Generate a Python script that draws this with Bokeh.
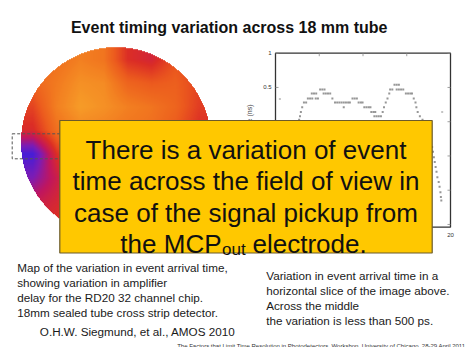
import numpy as np
from bokeh.plotting import figure
from bokeh.models import Range1d, LinearColorMapper
from bokeh.core.properties import value
from bokeh.embed import file_html
from bokeh.resources import INLINE

# ---------------- texts ----------------
title_text = "Event timing variation across 18 mm tube"
box_lines = ["There is a variation of event",
             "time across the field of view in",
             "case of the signal pickup from"]
box_last = ["the MCP", "out", "electrode."]
left_caption = ["Map of the variation in event arrival  time,",
                "showing variation in amplifier",
                "delay for the RD20 32 channel chip.",
                "18mm sealed tube cross strip detector."]
citation = "O.H.W. Siegmund, et al., AMOS 2010"
right_caption = ["Variation in event arrival time in a",
                 "horizontal slice of the image above.",
                 "Across the middle",
                 "the variation is less than 500 ps."]
footer = ("The Factors that Limit Time Resolution in Photodetectors, Workshop, "
          "University of Chicago, 28-29 April 2011")

# ---------------- slice-profile chart data ----------------
x_limits = [0, 20]
y_limits = [-1.54, 1.0]
x_ticks = [0, 5, 10, 15, 20]
x_tick_labels = ["0", "5", "10", "15", "20"]
y_ticks = [-1.5, -1.0, -0.5, 0.0, 0.5, 1.0]
y_tick_labels = ["-1.5", "-1", "-0.5", "0", "0.5", "1"]
y_axis_label = "Time (ns)"

prof_x = [1.0, 1.25, 1.5, 1.75, 2.0, 2.25, 2.4, 2.55,
          2.7, 2.8, 2.9, 3.05, 3.25, 3.5,
          3.7, 3.95, 4.2, 4.6, 4.85,
          4.15, 4.4, 4.65, 5.5, 5.75, 6.0, 6.25,
          5.1, 5.35, 5.6, 6.5,
          6.8, 7.05, 7.3, 7.55, 7.8, 8.05, 8.3, 8.5, 7.8,
          8.8, 9.05, 9.3, 9.5, 9.75, 9.95,
          10.15, 10.4, 10.65, 10.85, 10.95, 11.2, 11.4,
          11.3, 11.55, 11.8, 12.05,
          12.25, 12.4, 12.6, 12.8, 13.0,
          13.1, 13.35, 13.85, 14.1, 14.35, 14.6,
          13.6, 13.85, 14.1,
          14.9, 15.15, 15.4, 15.6,
          15.8, 16.0, 16.1, 16.25, 16.5, 16.8,
          17.05, 17.3, 17.55, 17.75,
          17.9, 18.0, 18.1, 18.2, 18.3, 18.4, 18.5, 18.65, 18.75, 18.85, 18.9, 18.95]
prof_y = [-1.2, -1.05, -0.9, -0.75, -0.6, -0.45, -0.3, -0.15,
          0.03, 0.08, 0.14, 0.21, 0.28, 0.28,
          0.34, 0.34, 0.34, 0.34, 0.34,
          0.41, 0.41, 0.41, 0.41, 0.41, 0.41, 0.41,
          0.47, 0.47, 0.47, 0.34,
          0.28, 0.28, 0.28, 0.28, 0.28, 0.28, 0.28, 0.28, 0.21,
          0.34, 0.34, 0.34, 0.28, 0.28, 0.28,
          0.21, 0.21, 0.21, 0.21, 0.14, 0.14, 0.14,
          0.08, 0.08, 0.08, 0.08,
          0.14, 0.21, 0.28, 0.34, 0.41,
          0.47, 0.47, 0.47, 0.47, 0.47, 0.47,
          0.54, 0.54, 0.54,
          0.41, 0.41, 0.41, 0.41,
          0.34, 0.28, 0.21, 0.14, 0.08, 0.03,
          -0.08, -0.17, -0.26, -0.32,
          -0.37, -0.44, -0.52, -0.59, -0.66, -0.73, -0.81, -0.88, -0.95, -1.03, -1.1, -1.15]
stray_x = [0.5, 19.05]
stray_y = [0.33, 0.14]

# ---------------- timing map (coarse values, 0=early/blue .. 1=late/yellow) ----------------
map_grid = [
    [0.68, 0.70, 0.76, 0.72, 0.50, 0.45, 0.60, 0.56],
    [0.66, 0.74, 0.82, 0.80, 0.66, 0.62, 0.64, 0.56],
    [0.56, 0.76, 0.86, 0.82, 0.76, 0.72, 0.66, 0.54],
    [0.48, 0.70, 0.78, 0.76, 0.72, 0.70, 0.62, 0.50],
    [0.04, 0.50, 0.70, 0.72, 0.70, 0.68, 0.62, 0.50],
    [0.20, 0.40, 0.62, 0.68, 0.68, 0.66, 0.62, 0.52],
    [0.38, 0.46, 0.60, 0.66, 0.66, 0.64, 0.60, 0.54],
    [0.48, 0.52, 0.58, 0.62, 0.64, 0.62, 0.58, 0.56],
]
map_anchor_vals = [0.0, 0.2, 0.35, 0.5, 0.62, 0.74, 0.86, 1.0]
map_anchor_cols = ["#3a1ee0", "#7e1cb4", "#c01660", "#dc2e26", "#ec5a1e", "#f27a20", "#f79c28", "#f9c43a"]

# ---------------- layout (reference pixel coordinates) ----------------
W, H = 466, 347
OFF = 0
WIN_H = 355
def V(ry):
    return WIN_H - ry

p = figure(width=W, height=H, x_range=Range1d(OFF, OFF + W), y_range=Range1d(WIN_H - OFF - H, WIN_H - OFF),
           x_axis_type=None, y_axis_type=None, output_backend="svg", toolbar_location=None,
           min_border=0, background_fill_color="white", border_fill_color="white")
p.grid.visible = False
p.outline_line_color = None

FONT = value("Liberation Sans")

# --- colour map build ---
def hex2rgb(h):
    return np.array([int(h[i:i + 2], 16) for i in (1, 3, 5)], dtype=float)
lv = np.linspace(0, 1, 256)
rgb = np.array([hex2rgb(c) for c in map_anchor_cols])
pal = []
for t in lv:
    r = np.interp(t, map_anchor_vals, rgb[:, 0])
    g = np.interp(t, map_anchor_vals, rgb[:, 1])
    b = np.interp(t, map_anchor_vals, rgb[:, 2])
    pal.append("#%02x%02x%02x" % (int(r), int(g), int(b)))
mapper = LinearColorMapper(palette=pal, low=0, high=1, nan_color=(0, 0, 0, 0))

# --- disc image ---
disc_cx, disc_cy, disc_r = 115.5, 141.7, 95.0
N = int(2 * disc_r)
grid = np.array(map_grid)
g_n = grid.shape[0]
pos = (np.arange(N) + 0.5) / N * g_n - 0.5
rows_up = np.array([np.interp(pos, np.arange(g_n), grid[i]) for i in range(g_n)])
img = np.array([np.interp(pos, np.arange(g_n), rows_up[:, j]) for j in range(N)]).T
yy, xx = np.mgrid[0:N, 0:N] + 0.5
inside = (xx - disc_r) ** 2 + (yy - disc_r) ** 2 <= disc_r ** 2
img = np.where(inside, img, np.nan)
img = img[::-1]  # row 0 at bottom
p.image(image=[img], x=disc_cx - disc_r, y=V(disc_cy + disc_r), dw=2 * disc_r, dh=2 * disc_r,
        color_mapper=mapper)

# dashed slice indicator
p.quad(left=11.7, right=222, top=V(133.3), bottom=V(158.3), fill_color=None,
       line_color="#555555", line_width=1, line_dash="3 2")

# --- slice profile chart through its own ranges ---
def ext_range(d0, p0, d1, p1, P0, P1):
    s = (d1 - d0) / (p1 - p0)
    return Range1d(start=d0 + (P0 - p0) * s, end=d0 + (P1 - p0) * s)

FX0, FX1 = 275, 450
FY0, FY1 = 52.7, 226.7
p.extra_x_ranges = {"sx": ext_range(x_limits[0], FX0, x_limits[1], FX1, OFF, OFF + W)}
p.extra_y_ranges = {"sy": ext_range(y_limits[0], V(FY1), y_limits[1], V(FY0), WIN_H - OFF - H, WIN_H - OFF)}
kx = (x_limits[1] - x_limits[0]) / (FX1 - FX0)
ky = (y_limits[1] - y_limits[0]) / (FY1 - FY0)
R = dict(x_range_name="sx", y_range_name="sy")

p.quad(left=x_limits[0], right=x_limits[1], bottom=y_limits[0], top=y_limits[1],
       fill_color="white", line_color="#333333", line_width=1.3, **R)
tl = 3
inner_x = x_ticks[1:-1]
p.segment(x0=inner_x, x1=inner_x, y0=[y_limits[1]] * 3, y1=[y_limits[1] - tl * ky] * 3,
          line_color="#888888", line_width=0.8, **R)
p.segment(x0=inner_x, x1=inner_x, y0=[y_limits[0]] * 3, y1=[y_limits[0] + tl * ky] * 3,
          line_color="#888888", line_width=0.8, **R)
p.segment(x0=[x_limits[1]] * len(y_ticks), x1=[x_limits[1] - tl * kx] * len(y_ticks), y0=y_ticks, y1=y_ticks,
          line_color="#888888", line_width=0.8, **R)
p.segment(x0=[x_limits[0]] * len(y_ticks), x1=[x_limits[0] + tl * kx] * len(y_ticks), y0=y_ticks, y1=y_ticks,
          line_color="#888888", line_width=0.8, **R)

p.scatter(x=prof_x, y=prof_y, marker="square", size=2.0, fill_color="#858585", line_color=None,
          fill_alpha=0.85, **R)
p.scatter(x=stray_x, y=stray_y, marker="square", size=2.0, fill_color="#c4c4c4", line_color=None, **R)

p.text(x=[x_limits[0]] * len(y_ticks), y=y_ticks, text=y_tick_labels, x_offset=-4,
       text_align="right", text_baseline="middle", text_font=FONT, text_font_size=value("6px"),
       text_color="#333333", **R)
p.text(x=x_ticks, y=[y_limits[0]] * len(x_ticks), text=x_tick_labels, y_offset=6,
       text_align="center", text_baseline="top", text_font=FONT, text_font_size=value("6px"),
       text_color="#333333", **R)
p.text(x=[249], y=[V(104)], text=[y_axis_label], angle=np.pi / 2, text_align="right",
       text_baseline="middle", text_font=FONT, text_font_size=value("7px"), text_color="#444444")

# --- yellow call-out box ---
BX0, BX1, BY0, BY1 = 59.3, 431.7, 120.0, 252.5
p.quad(left=BX0, right=BX1, top=V(BY0), bottom=V(BY1), fill_color="#ffc800",
       line_color="#6b5a2a", line_width=1.2)
bcx = (BX0 + BX1) / 2
p.text(x=[bcx] * 3, y=[V(149), V(180.5), V(212)], text=box_lines, text_align="center",
       text_baseline="alphabetic", text_font=FONT, text_font_size=value("26px"), text_color="#111111")
p.text(x=[221], y=[V(243)], text=[box_last[0]], text_align="right", text_baseline="alphabetic",
       text_font=FONT, text_font_size=value("26px"), text_color="#111111")
p.text(x=[221.5], y=[V(248.5)], text=[box_last[1]], text_align="left", text_baseline="alphabetic",
       text_font=FONT, text_font_size=value("17px"), text_color="#111111")
p.text(x=[252], y=[V(243)], text=[box_last[2]], text_align="left", text_baseline="alphabetic",
       text_font=FONT, text_font_size=value("26px"), text_color="#111111")

# --- title and captions ---
p.text(x=[228.7], y=[V(26.7)], text=[title_text], text_align="center", text_baseline="alphabetic",
       text_font=FONT, text_font_size=value("16px"), text_font_style="bold", text_color="#111111")
p.text(x=[16.7] * 4, y=[V(267.3), V(282.3), V(297.3), V(312.3)], text=left_caption,
       text_align="left", text_baseline="alphabetic", text_font=FONT, text_font_size=value("11.7px"),
       text_color="#1a1a1a")
p.text(x=[39.3], y=[V(331)], text=[citation], text_align="left", text_baseline="alphabetic",
       text_font=FONT, text_font_size=value("11.7px"), text_color="#1a1a1a")
p.text(x=[265.7] * 4, y=[V(275), V(290), V(305), V(320)], text=right_caption,
       text_align="left", text_baseline="alphabetic", text_font=FONT, text_font_size=value("11.7px"),
       text_color="#1a1a1a")
p.text(x=[465], y=[V(345)], text=[footer], text_align="right", text_baseline="alphabetic",
       text_font=FONT, text_font_size=value("6px"), text_color="#333333")

open("out.html", "w").write(file_html(p, INLINE))
